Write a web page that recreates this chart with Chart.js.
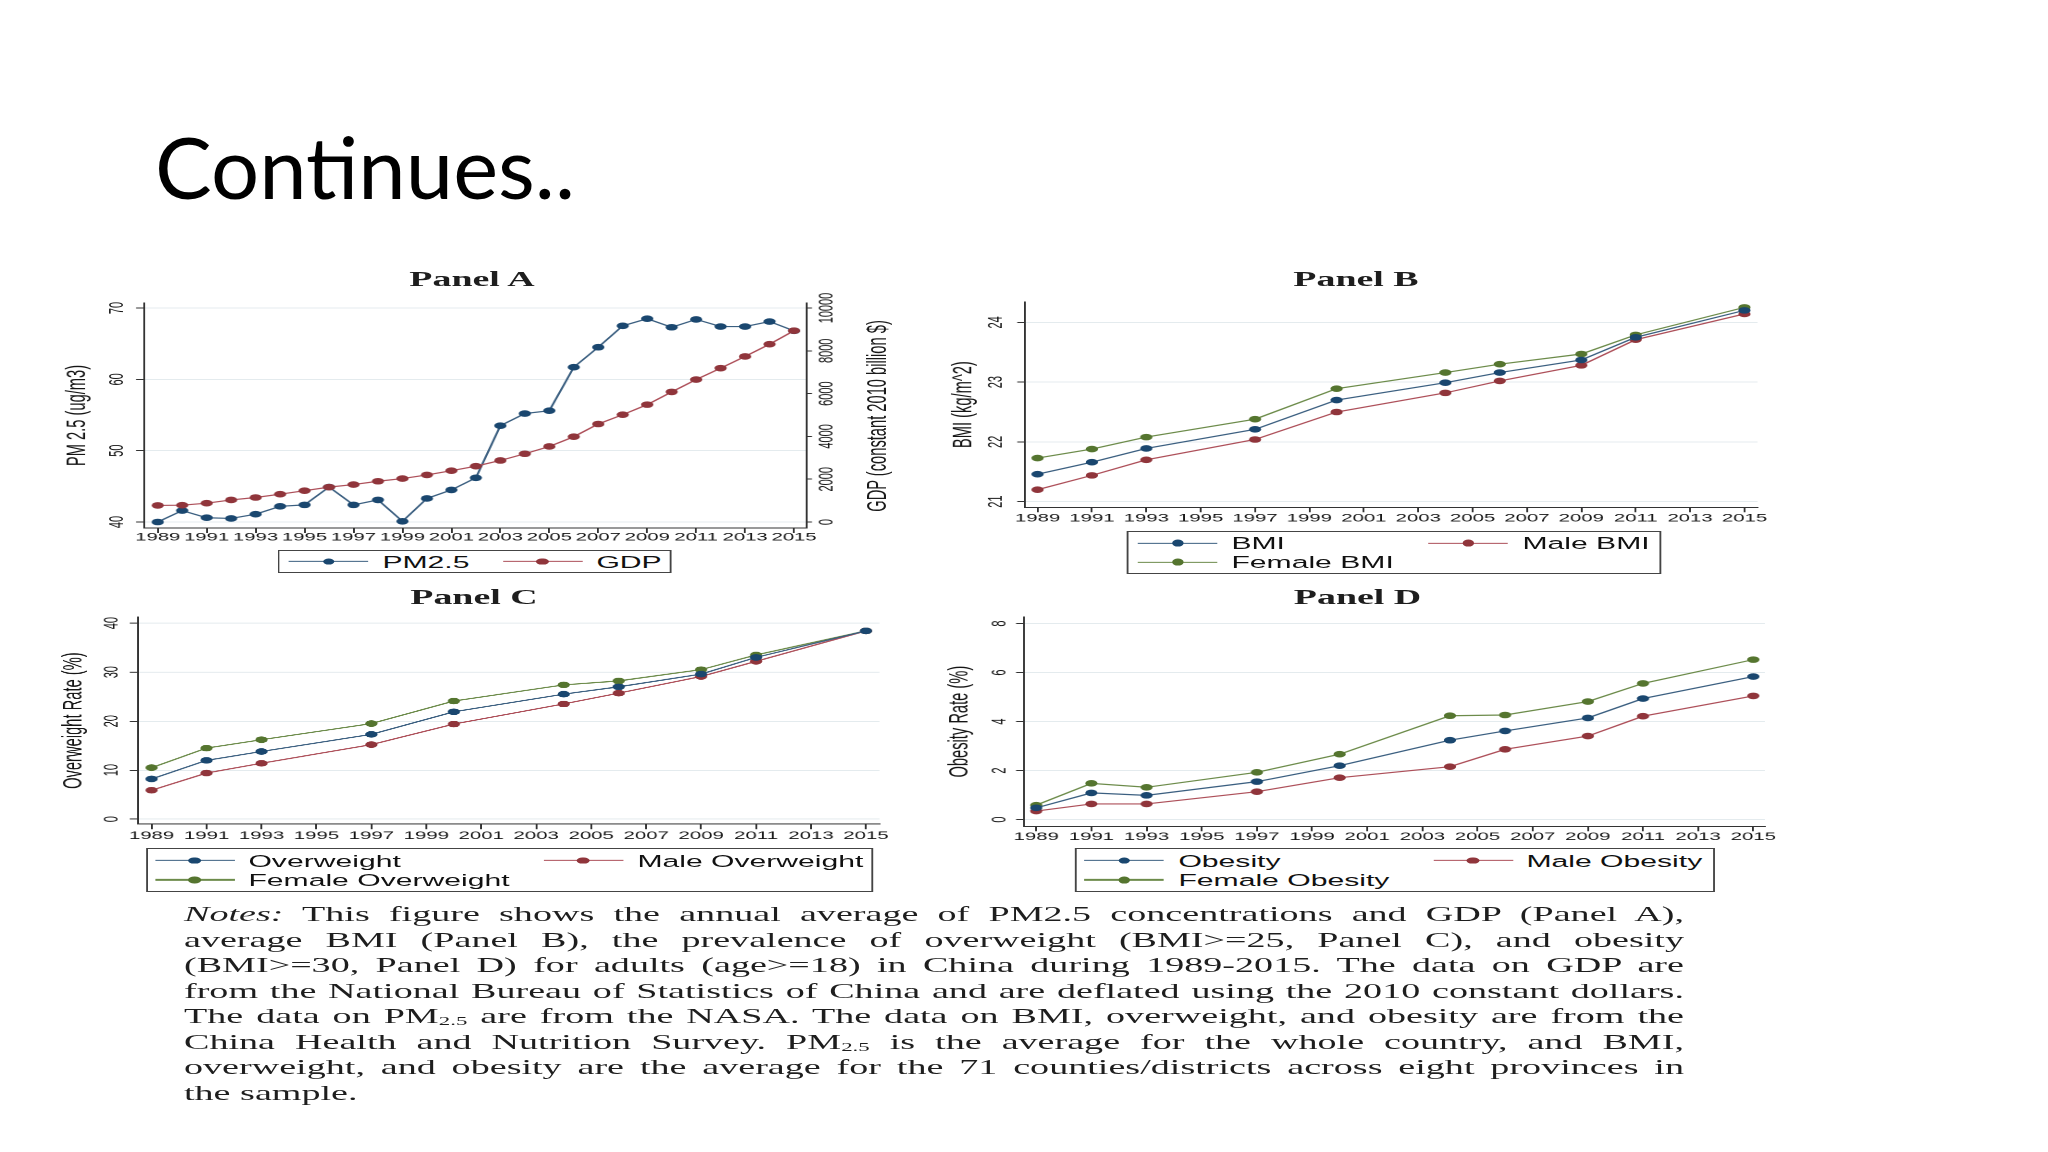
<!DOCTYPE html>
<html>
<head>
<meta charset="utf-8">
<title>Continues..</title>
<script src="https://cdn.jsdelivr.net/npm/chart.js@4.4.1/dist/chart.umd.min.js"></script>
<style>
  html, body { margin: 0; padding: 0; background: #fff; }
  body { width: 2048px; height: 1152px; overflow: hidden; position: relative; }
  #slideTitle { position: absolute; left: 155px; top: 124px; font: 85px Lato, sans-serif; line-height: 1; color: #000; white-space: nowrap; }
  #fig { position: absolute; left: 0; top: 0; width: 1110px; height: 1152px; transform-origin: 0 0; }
  .box { position: absolute; }
  .ptitle { position: absolute; font: bold 20.5px "Liberation Serif", serif; color: #1e1e1e; white-space: nowrap; transform: translate(-50%, -50%); }
  .rtitle { position: absolute; font: 14.7px "Liberation Sans", sans-serif; color: #1a1a1a; white-space: nowrap; transform: translate(-50%, -50%) rotate(-90deg); }
  .legend { position: absolute; border: 1px solid #444; box-sizing: border-box; background: #fff; }
  .item { position: absolute; display: flex; align-items: center; transform: translateY(-50%); font: 16.3px "Liberation Sans", sans-serif; color: #111; white-space: nowrap; line-height: 1; }
  .sample { position: relative; width: 43px; height: 1.3px; margin-right: 7.6px; }
  .sample i { position: absolute; left: 50%; top: 50%; width: 6.6px; height: 6.6px; border-radius: 50%; transform: translate(-50%, -50%); }
  #notes { position: absolute; font: 20.6px "Liberation Serif", serif; line-height: 25.5px; color: #1e1e1e; }
  #notes div { text-align: justify; text-align-last: justify; }
  #notes div.last { text-align-last: left; }
  #notes sub { font-size: 0.6em; vertical-align: -0.2em; line-height: 0; }
</style>
</head>
<body>
<div id="slideTitle">Continues..</div>
<div id="fig"></div>

<script>
// ---- data ----
const years = [1989, 1990, 1991, 1992, 1993, 1994, 1995, 1996, 1997, 1998, 1999, 2000, 2001, 2002,
               2003, 2004, 2005, 2006, 2007, 2008, 2009, 2010, 2011, 2012, 2013, 2014, 2015];
const pm25 = [40.0, 41.6, 40.6, 40.5, 41.1, 42.2, 42.4, 44.9, 42.4, 43.1, 40.1, 43.3, 44.5, 46.2,
              53.5, 55.2, 55.6, 61.7, 64.5, 67.5, 68.5, 67.3, 68.4, 67.4, 67.4, 68.1, 66.8];
const gdp = [775, 785, 880, 1030, 1145, 1300, 1465, 1630, 1750, 1905, 2030, 2200, 2400, 2610,
             2875, 3190, 3530, 3985, 4580, 5015, 5485, 6080, 6655, 7190, 7735, 8310, 8940];

const surveyYears = [1989, 1991, 1993, 1997, 2000, 2004, 2006, 2009, 2011, 2015];
const bmi       = [21.46, 21.66, 21.89, 22.21, 22.70, 22.99, 23.16, 23.37, 23.75, 24.20];
const bmiMale   = [21.20, 21.44, 21.70, 22.04, 22.50, 22.82, 23.02, 23.28, 23.71, 24.14];
const bmiFemale = [21.73, 21.88, 22.08, 22.38, 22.89, 23.16, 23.30, 23.47, 23.79, 24.25];

const overweight       = [8.2, 12.0, 13.8, 17.3, 21.9, 25.5, 27.0, 29.6, 33.0, 38.4];
const overweightMale   = [5.9, 9.4, 11.4, 15.2, 19.4, 23.5, 25.7, 29.1, 32.2, 38.4];
const overweightFemale = [10.5, 14.5, 16.2, 19.5, 24.1, 27.4, 28.2, 30.5, 33.5, 38.4];

const obesity       = [0.48, 1.09, 0.99, 1.55, 2.20, 3.24, 3.62, 4.15, 4.94, 5.84];
const obesityMale   = [0.35, 0.64, 0.64, 1.14, 1.71, 2.16, 2.87, 3.41, 4.22, 5.05];
const obesityFemale = [0.59, 1.48, 1.32, 1.93, 2.67, 4.24, 4.27, 4.82, 5.56, 6.53];

const yearTicks = [1989, 1991, 1993, 1995, 1997, 1999, 2001, 2003, 2005, 2007, 2009, 2011, 2013, 2015];
const pmTicks  = [40, 50, 60, 70];
const gdpTicks = [0, 2000, 4000, 6000, 8000, 10000];
const bmiTicks = [21, 22, 23, 24];
const owTicks  = [0, 10, 20, 30, 40];
const obTicks  = [0, 2, 4, 6, 8];

// ---- look ----
const K = 1.85;            // the pasted figure is stretched sideways by about this much
const TICK_PX = 11, TITLE_PX = 14.7;
const TL_Y = 4.2, TL_X = 5;
const INK = '#151515', AXIS = '#333', GRID = '#e4ebee';
const NAVY   = { line: '#3b5f80', mark: '#1a476f' };
const MAROON = { line: '#ad4f59', mark: '#90353b' };
const GREEN  = { line: '#6c8b4a', mark: '#55752f' };

Chart.defaults.font.family = '"Liberation Sans", Arial, sans-serif';
Chart.defaults.color = INK;

const fig = document.getElementById('fig');
fig.style.transform = 'scaleX(' + K + ')';

function series(label, xs, ys, col, extra) {
  return Object.assign({
    label: label,
    data: xs.map((x, i) => ({ x: x, y: ys[i] })),
    borderColor: col.line,
    backgroundColor: col.mark,
    pointBackgroundColor: col.mark,
    pointBorderColor: col.mark,
    borderWidth: 1.2,
    pointRadius: 3.3,
    pointBorderWidth: 0,
    tension: 0
  }, extra || {});
}

const measure = document.createElement('canvas').getContext('2d');
function widest(labels) {
  measure.font = TICK_PX + 'px "Liberation Sans"';
  return Math.max(...labels.map(t => measure.measureText(String(t)).width));
}
const fixTicks = values => scale => { scale.ticks = values.map(v => ({ value: v })); };

function addText(cls, text, x, y) {
  const d = document.createElement('div');
  d.className = cls;
  d.textContent = text;
  d.style.left = (x / K) + 'px';
  d.style.top = y + 'px';
  fig.appendChild(d);
}

// g: panel geometry in picture pixels
function makePanel(g, datasets, xr, yr, yTicks, yTitle, right) {
  const padTop = 15, padRight = 14, Hx = 24;
  const Wy = (g.left - g.yTitleX) / K + TITLE_PX * 1.2 / 2;
  const Wr = right ? 22 : 0;
  const plotW = (g.right - g.left) / K;

  const box = document.createElement('div');
  box.className = 'box';
  box.style.left = (g.left / K - Wy) + 'px';
  box.style.top = (g.top - padTop) + 'px';
  box.style.width = (Wy + plotW + (Wr || padRight)) + 'px';
  box.style.height = (padTop + (g.bottom - g.top) + Hx) + 'px';
  const canvas = document.createElement('canvas');
  box.appendChild(canvas);
  fig.appendChild(box);

  const scales = {
    x: {
      type: 'linear', min: xr[0], max: xr[1],
      afterBuildTicks: fixTicks(yearTicks),
      afterFit: s => { s.height = Hx; },
      ticks: { autoSkip: false, minRotation: 0, maxRotation: 0, font: { size: TICK_PX },
               padding: (g.xLabelY - g.bottom) - TL_X - TICK_PX * 1.2 / 2,
               callback: v => String(v) },
      grid: { drawOnChartArea: false, drawTicks: true, tickLength: TL_X, tickColor: AXIS },
      border: { color: AXIS, width: 1 }
    },
    y: {
      type: 'linear', position: 'left', min: yr[0], max: yr[1],
      afterBuildTicks: fixTicks(yTicks),
      afterFit: s => { s.width = Wy; },
      ticks: { minRotation: 90, maxRotation: 90, crossAlign: 'center', font: { size: TICK_PX },
               padding: (g.left - g.yTickX) / K - TL_Y - widest(yTicks) / 2,
               callback: v => String(v) },
      grid: { color: GRID, lineWidth: 1, tickLength: TL_Y, tickColor: AXIS },
      border: { color: AXIS, width: 1 },
      title: { display: true, text: yTitle, color: INK, font: { size: TITLE_PX }, padding: 0 }
    }
  };
  if (right) {
    scales.y2 = {
      type: 'linear', position: 'right', min: right.range[0], max: right.range[1],
      afterBuildTicks: fixTicks(right.ticks),
      afterFit: s => { s.width = Wr; },
      ticks: { minRotation: 90, maxRotation: 90, crossAlign: 'center', font: { size: TICK_PX },
               padding: (g.rTickX - g.right) / K - 2.7 - widest(right.ticks) / 2,
               callback: v => String(v) },
      grid: { drawOnChartArea: false, tickLength: 2.7, tickColor: AXIS },
      border: { color: AXIS, width: 1 }
    };
  }

  return new Chart(canvas, {
    type: 'line',
    data: { datasets: datasets },
    options: {
      responsive: true,
      maintainAspectRatio: false,
      animation: false,
      devicePixelRatio: 2,
      layout: { padding: { left: 0, top: padTop, right: right ? 0 : padRight, bottom: 0 } },
      plugins: { legend: { display: false }, tooltip: { enabled: false }, title: { display: false } },
      scales: scales
    }
  });
}

// Stata-like legend box, built from the chart's own datasets
function makeLegend(chart, b) {
  const el = document.createElement('div');
  el.className = 'legend';
  el.style.left = (b.x0 / K) + 'px';
  el.style.top = b.y0 + 'px';
  el.style.width = ((b.x1 - b.x0) / K) + 'px';
  el.style.height = (b.y1 - b.y0) + 'px';
  chart.data.datasets.forEach((ds, i) => {
    const slot = b.slots[i];
    const item = document.createElement('div');
    item.className = 'item';
    item.style.left = ((slot[0] - b.x0) / K) + 'px';
    item.style.top = (slot[1] - b.y0 - 1) + 'px';
    const sample = document.createElement('span');
    sample.className = 'sample';
    sample.style.background = ds.borderColor;
    const dot = document.createElement('i');
    dot.style.background = ds.pointBackgroundColor;
    sample.appendChild(dot);
    const lbl = document.createElement('span');
    lbl.textContent = ds.label;
    item.appendChild(sample);
    item.appendChild(lbl);
    el.appendChild(item);
  });
  fig.appendChild(el);
}

// ---- Panel A ----
const gA = { left: 143, right: 807, top: 303, bottom: 528, yTitleX: 76.5, yTickX: 117, xLabelY: 537.5, rTickX: 826.7 };
const chartA = makePanel(gA, [
  series('PM2.5', years, pm25, NAVY, { yAxisID: 'y', order: 1 }),
  series('GDP', years, gdp, MAROON, { yAxisID: 'y2', order: 0 })
], [1988.43, 2015.53], [39.16, 70.7], pmTicks, 'PM 2.5 (ug/m3)', { range: [-280, 10234], ticks: gdpTicks });
addText('ptitle', 'Panel A', 472, 279);
addText('rtitle', 'GDP (constant 2010 billion $)', 876.7, 415.5);
makeLegend(chartA, { x0: 277.5, x1: 672, y0: 550, y1: 573, slots: [[287, 561.5], [501, 561.5]] });

// ---- Panel B ----
const gB = { left: 1025.5, right: 1758, top: 302, bottom: 507.3, yTitleX: 964, yTickX: 997, xLabelY: 518.3 };
const chartB = makePanel(gB, [
  series('BMI', surveyYears, bmi, NAVY),
  series('Male BMI', surveyYears, bmiMale, MAROON),
  series('Female BMI', surveyYears, bmiFemale, GREEN)
], [1988.54, 2015.48], [20.906, 24.34], bmiTicks, 'BMI (kg/m^2)');
addText('ptitle', 'Panel B', 1356, 279);
makeLegend(chartB, { x0: 1127, x1: 1662, y0: 531, y1: 574, slots: [[1136, 543], [1427, 543], [1136, 562]] });

// ---- Panel C ----
const gC = { left: 137.7, right: 878, top: 617.3, bottom: 824, yTitleX: 74, yTickX: 112, xLabelY: 835.7 };
const chartC = makePanel(gC, [
  series('Overweight', surveyYears, overweight, NAVY),
  series('Male Overweight', surveyYears, overweightMale, MAROON),
  series('Female Overweight', surveyYears, overweightFemale, GREEN)
], [1988.49, 2015.49], [-1.02, 41.23], owTicks, 'Overweight Rate (%)');
addText('ptitle', 'Panel C', 474, 597);
makeLegend(chartC, { x0: 146, x1: 873, y0: 848.3, y1: 892, slots: [[153, 860.7], [542, 860.7], [153, 880]] });

// ---- Panel D ----
const gD = { left: 1023, right: 1764, top: 616.7, bottom: 826, yTitleX: 959, yTickX: 999, xLabelY: 836.5 };
const chartD = makePanel(gD, [
  series('Obesity', surveyYears, obesity, NAVY),
  series('Male Obesity', surveyYears, obesityMale, MAROON),
  series('Female Obesity', surveyYears, obesityFemale, GREEN)
], [1988.55, 2015.42], [-0.273, 8.27], obTicks, 'Obesity Rate (%)');
addText('ptitle', 'Panel D', 1357.5, 597);
makeLegend(chartD, { x0: 1074, x1: 1715, y0: 848.3, y1: 892, slots: [[1083, 860.7], [1431, 860.7], [1083, 880]] });

// ---- notes under the figure ----
const noteLines = [
  '<i>Notes:</i> This figure shows the annual average of PM2.5 concentrations and GDP (Panel A),',
  'average BMI (Panel B), the prevalence of overweight (BMI&gt;=25, Panel C), and obesity',
  '(BMI&gt;=30, Panel D) for adults (age&gt;=18) in China during 1989-2015. The data on GDP are',
  'from the National Bureau of Statistics of China and are deflated using the 2010 constant dollars.',
  'The data on PM<sub>2.5</sub> are from the NASA. The data on BMI, overweight, and obesity are from the',
  'China Health and Nutrition Survey. PM<sub>2.5</sub> is the average for the whole country, and BMI,',
  'overweight, and obesity are the average for the 71 counties/districts across eight provinces in',
  'the sample.'
];
const notes = document.createElement('div');
notes.id = 'notes';
notes.style.left = (184 / K) + 'px';
notes.style.width = ((1684 - 184) / K) + 'px';
notes.style.top = (915 - 12.75) + 'px';
const lineDivs = noteLines.map((html, i) => {
  const d = document.createElement('div');
  d.innerHTML = html;
  if (i === noteLines.length - 1) d.className = 'last';
  notes.appendChild(d);
  return d;
});
fig.appendChild(notes);
// shrink the note font a little if any line would wrap
let notePx = 20.6;
while (notePx > 16 && lineDivs.some(d => d.offsetHeight > 26)) {
  notePx -= 0.2;
  notes.style.fontSize = notePx + 'px';
}
</script>
</body>
</html>
